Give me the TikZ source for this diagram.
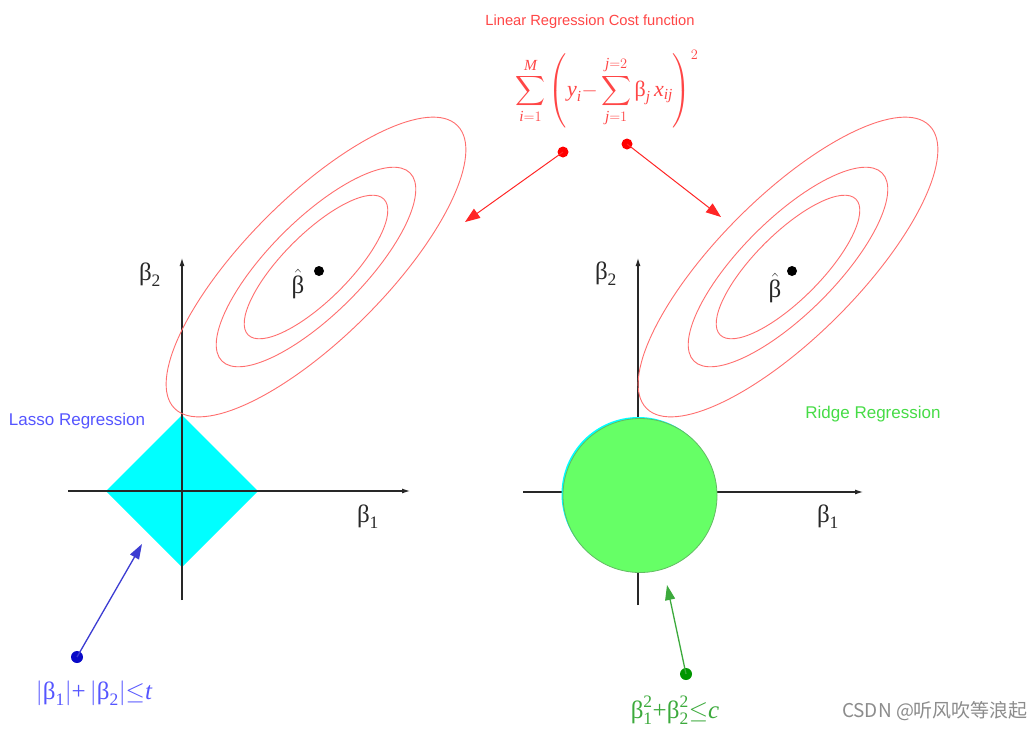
\documentclass[tikz,border=0pt]{standalone}
\usepackage{amsmath}
\usepackage{fontspec}
\setmainfont{Liberation Serif}
\newfontfamily\sansf{Liberation Sans}
\newfontfamily\cjkf{Noto Sans CJK SC}
\usetikzlibrary{arrows.meta}
\newcommand{\mi}[1]{\text{\itshape #1}}
\newcommand{\bt}{\text{β}}
\definecolor{ellred}{RGB}{255,110,110}
\definecolor{txtred}{RGB}{255,70,70}
\definecolor{lassoblue}{RGB}{85,85,255}
\definecolor{ridgegreen}{RGB}{70,220,70}
\definecolor{darkblue}{RGB}{10,10,200}
\definecolor{midblue}{RGB}{60,60,210}
\definecolor{dgreen}{RGB}{0,150,0}
\definecolor{lgreen}{RGB}{60,170,60}
\definecolor{fillgreen}{RGB}{102,255,102}
\definecolor{purecyan}{RGB}{0,255,255}
\definecolor{axisgray}{RGB}{40,40,40}
\begin{document}
\begin{tikzpicture}[x=1pt,y=-1pt,
  ell/.style={draw=ellred,line width=0.9pt},
  axis/.style={draw=axisgray,line width=1.1pt,-{Latex[length=8pt,width=5pt]}},
  dotnode/.style={circle,inner sep=0pt,minimum size=#1},
  redarrow/.style={draw=red!85,line width=1pt,-{Triangle[length=15pt,width=11pt]}},
  bluearrow/.style={draw=midblue,line width=1.3pt,-{Triangle[length=15pt,width=10pt]}},
  greenarrow/.style={draw=lgreen,line width=1.3pt,-{Triangle[length=15pt,width=10pt]}},
  greek/.style={text=axisgray,font=\fontsize{25}{29}\selectfont,inner sep=0pt},
  lbl/.style={font=\sansf\fontsize{17}{20}\selectfont,inner sep=0pt}]
\useasboundingbox (0,0) rectangle (1036,729);
\fill[white] (0,0) rectangle (1036,729);

% ---------- top: cost function ----------
\node[font=\sansf\fontsize{14.7}{17}\selectfont,text=txtred,inner sep=0pt] (title) at (590,22) {Linear Regression Cost function};
\node[text=txtred,font=\fontsize{22}{26}\selectfont,inner sep=0pt] (formula) at (607,89)
  {$\displaystyle\sum_{\mi{i}=1}^{\mi{M}}\left(\mi{y}_{\mi{i}}{-}\sum_{\mi{j}=1}^{\mi{j}=2}\bt_{\mi{j}}\,\mi{x}_{\mi{ij}}\right)^{2}$};

% ---------- left panel (Lasso) ----------
\fill[purecyan] (182,415) -- (258,491) -- (182,567) -- (106,491) -- cycle;
\coordinate (lvb) at (182,600);
\coordinate (lvt) at (182,258);
\coordinate (lhl) at (68,491);
\coordinate (lhr) at (410,491);
\draw[axis] (lvb) -- (lvt);
\draw[axis] (lhl) -- (lhr);
\node[greek] (lb2) at (150,275) {$\bt_{\text{2}}$};
\node[greek] (lb1) at (368,517) {$\bt_{\text{1}}$};
\begin{scope}[rotate around={45:(316,267)}]
  \draw[ell] (316,267) ellipse [x radius=200, y radius=70];
  \draw[ell] (316,267) ellipse [x radius=133, y radius=47];
  \draw[ell] (316,267) ellipse [x radius=96, y radius=33];
\end{scope}
\node[dotnode=10pt,fill=black] (lhat) at (319,271) {};
\node[greek] (lbh) at (298,284) {$\hat{\bt}$};
\node[lbl,text=lassoblue] (lasso) at (77,421) {Lasso Regression};

\node[dotnode=12pt,fill=darkblue] (bdot) at (77,657) {};
\coordinate (btip) at (142,544);
\draw[bluearrow] (bdot.center) -- (btip);
\node[text=lassoblue,font=\fontsize{25}{29}\selectfont,inner sep=0pt] (lassof) at (94,693)
  {$|\bt_{\text{1}}|\text{+}\,|\bt_{\text{2}}|{\le}\mi{t}$};

% ---------- right panel (Ridge) ----------
\coordinate (rvb) at (638,605);
\coordinate (rvt) at (638,258);
\coordinate (rhl) at (523,492);
\coordinate (rhr) at (863,492);
\draw[axis] (rvb) -- (rvt);
\draw[axis] (rhl) -- (rhr);
\fill[purecyan] (638.5,494) circle [radius=77];
\filldraw[fill=fillgreen,draw=lgreen!80,line width=0.8pt] (640,495.5) circle [radius=77];
\node[greek] (rb2) at (606,274) {$\bt_{\text{2}}$};
\node[greek] (rb1) at (828,517) {$\bt_{\text{1}}$};
\begin{scope}[rotate around={45:(788,267)}]
  \draw[ell] (788,267) ellipse [x radius=200, y radius=70];
  \draw[ell] (788,267) ellipse [x radius=133, y radius=47];
  \draw[ell] (788,267) ellipse [x radius=96, y radius=33];
\end{scope}
\node[dotnode=10pt,fill=black] (rhat) at (792,271) {};
\node[greek] (rbh) at (775,288) {$\hat{\bt}$};
\node[lbl,text=ridgegreen] (ridge) at (873,414) {Ridge Regression};

\node[dotnode=12pt,fill=dgreen] (gdot) at (686,674) {};
\coordinate (gtip) at (667,585);
\draw[greenarrow] (gdot.center) -- (gtip);
\node[text=lgreen,font=\fontsize{25}{29}\selectfont,inner sep=0pt] (ridgef) at (675,710)
  {$\bt_{\text{1}}^{\text{2}}\text{+}\bt_{\text{2}}^{\text{2}}{\le}\mi{c}$};

% ---------- red arrows ----------
\node[dotnode=11pt,fill=red] (rd1) at (563,152) {};
\node[dotnode=11pt,fill=red] (rd2) at (627,144) {};
\coordinate (rt1) at (465,222);
\coordinate (rt2) at (721,217);
\draw[redarrow] (rd1.center) -- (rt1);
\draw[redarrow] (rd2.center) -- (rt2);

% ---------- watermark ----------
\node[font=\cjkf\fontsize{19}{22}\selectfont,text=black!45,inner sep=0pt] (wm) at (935,711) {CSDN @听风吹等浪起};
\end{tikzpicture}
\end{document}
